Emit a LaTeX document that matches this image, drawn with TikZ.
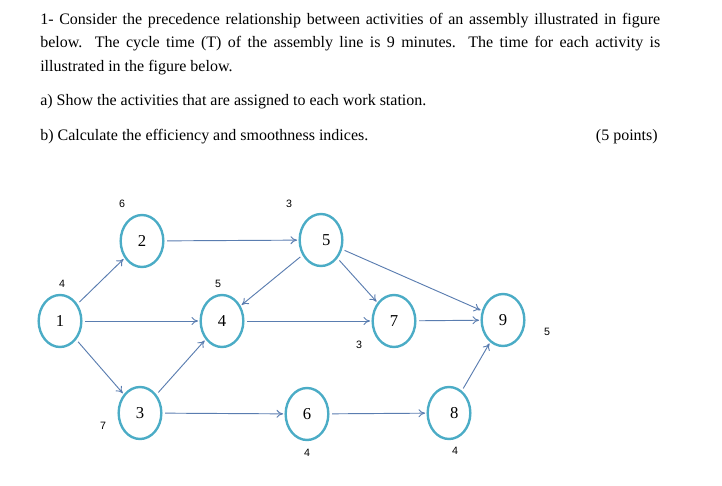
\documentclass[tikz,border=0pt]{standalone}
\usepackage{fontspec}
\setmainfont{Liberation Serif}
\newfontfamily\lsans{Liberation Sans}
\usetikzlibrary{shapes.geometric,arrows.meta}
\begin{document}
\begin{tikzpicture}[x=0.75pt,y=-0.75pt,
  act/.style={ellipse,draw=teal1,line width=1.8pt,minimum width=32pt,minimum height=39pt,inner sep=0pt,font=\fontsize{12.5}{14}\selectfont},
  lbl/.style={font=\lsans\fontsize{8}{10}\selectfont},
  con/.style={draw=arr,line width=0.7pt,-{To[length=5pt,width=6pt]},shorten <=2pt,shorten >=1pt}]
\definecolor{teal1}{HTML}{4BACC6}
\definecolor{arr}{HTML}{5A7DB0}
\useasboundingbox (0,0) rectangle (722,486);
\node[anchor=north west,text width=465pt,align=justify,inner sep=0pt,font=\fontsize{12}{17.5}\selectfont] (t) at (40,13)
 {1- Consider the precedence relationship between activities of an assembly illustrated in figure\linebreak below. The cycle time (T) of the assembly line is 9 minutes. The time for each activity is\linebreak illustrated in the figure below.};
\node[anchor=west,inner sep=0pt,font=\fontsize{12}{14}\selectfont] (a) at (40,102) {a) Show the activities that are assigned to each work station.};
\node[anchor=west,inner sep=0pt,font=\fontsize{12}{14}\selectfont] (b) at (40,137) {b) Calculate the efficiency and smoothness indices.};
\node[anchor=east,inner sep=0pt,font=\fontsize{12}{14}\selectfont] (p) at (658,137) {(5 points)};
\node[act] (n1) at (60,321) {1};
\node[act] (n2) at (142,241) {2};
\node[act] (n3) at (140,413) {3};
\node[act] (n4) at (222,321) {4};
\node[act] (n5) at (321,240) {\hspace*{8pt}5};
\node[act] (n6) at (307,414) {6};
\node[act] (n7) at (394,321) {7};
\node[act] (n8) at (449,413) {\hspace*{8pt}8};
\node[act] (n9) at (503,320) {9};
\node[lbl] (l2) at (122,204) {6};
\node[lbl] (l5) at (289,204) {3};
\node[lbl] (l1) at (62,284) {4};
\node[lbl] (l4) at (218,284) {5};
\node[lbl] (l3) at (103,426) {7};
\node[lbl] (l7) at (359,345) {3};
\node[lbl] (l9) at (547,332) {5};
\node[lbl] (l6) at (307,453) {4};
\node[lbl] (l8) at (455,451) {4};
\draw[con] (n1) -- (n2);
\draw[con] (n1) -- (n4);
\draw[con] (n1) -- (n3);
\draw[con] (n2) -- (n5);
\draw[con] (n5) -- (n4);
\draw[con] (n5) -- (n7);
\draw[con] (n5) -- (n9);
\draw[con] (n3) -- (n4);
\draw[con] (n3) -- (n6);
\draw[con] (n4) -- (n7);
\draw[con] (n7) -- (n9);
\draw[con] (n6) -- (n8);
\draw[con] (n8) -- (n9);
\end{tikzpicture}
\end{document}
